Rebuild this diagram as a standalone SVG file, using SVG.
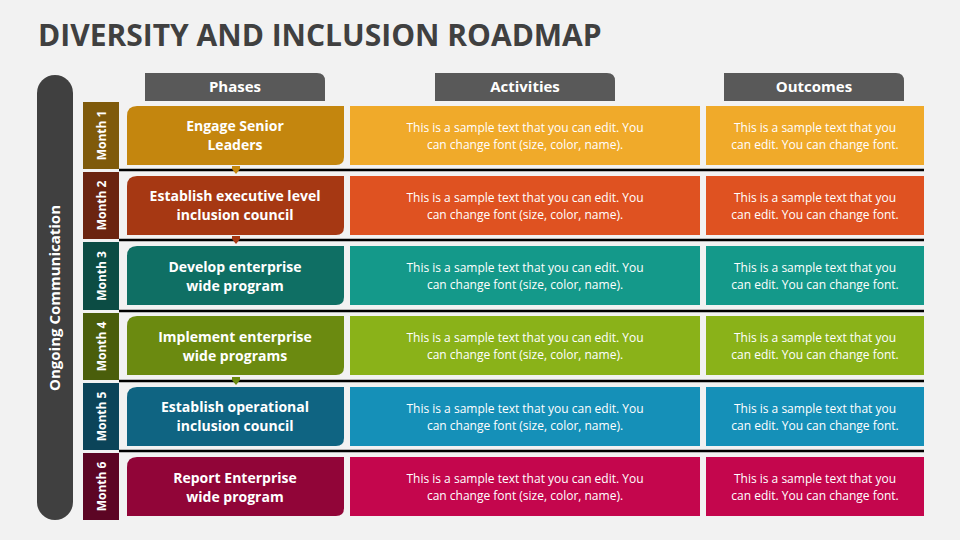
<svg xmlns="http://www.w3.org/2000/svg" width="960" height="540" viewBox="0 0 960 540">
<style>
text{font-family:"Open Sans","Liberation Sans",sans-serif;font-weight:bold;fill:#fff;text-anchor:middle}
.t{font-size:14px}
.s{font-size:12px;font-weight:normal}
.m{font-size:12px}
.h{font-size:15px}
.sep{stroke:#000;stroke-width:2.5}
</style>
<rect width="960" height="540" fill="#F2F2F2"/>
<text x="38" y="46" style="text-anchor:start;font-size:30px;fill:#404040">DIVERSITY AND INCLUSION ROADMAP</text>
<g id="headers">
<path d="M145 73H317Q325 73 325 81V101H145Z" fill="#595959"/><text class="h" x="235" y="92">Phases</text>
<path d="M435 73H607Q615 73 615 81V101H435Z" fill="#595959"/><text class="h" x="525" y="92">Activities</text>
<path d="M724 73H896Q904 73 904 81V101H724Z" fill="#595959"/><text class="h" x="814" y="92">Outcomes</text>
</g>
<g id="comm"><rect x="37" y="75" width="36" height="445" rx="18" fill="#404040"/>
<text class="h" transform="translate(60 298) rotate(-90)">Ongoing Communication</text></g>
<g id="connectors">
<line class="sep" x1="119" y1="170" x2="924" y2="170"/>
<line class="sep" x1="119" y1="240" x2="924" y2="240"/>
<line class="sep" x1="119" y1="311" x2="924" y2="311"/>
<line class="sep" x1="119" y1="381" x2="924" y2="381"/>
<line class="sep" x1="119" y1="451" x2="924" y2="451"/>
<path d="M232 166h8v3l-4 5l-4-5z" fill="#C4860E"/>
<path d="M232 236h8v3l-4 5l-4-5z" fill="#A63813"/>
<path d="M232 377h8v3l-4 5l-4-5z" fill="#6B8A10"/>
</g>
<g id="row1"><rect x="83" y="102" width="36" height="67" fill="#7F5A0B"/><text class="m" transform="translate(102 135.5) rotate(-90)" dy="4">Month 1</text>
<path d="M137 106H344V157Q344 165 336 165H127V116Q127 106 137 106Z" fill="#C4860E"/><text class="t" x="235" y="131">Engage Senior</text><text class="t" x="235" y="150">Leaders</text>
<rect x="350" y="106" width="350" height="59" fill="#F0AA2A"/><text class="s" x="525" y="132">This is a sample text that you can edit. You</text><text class="s" x="525" y="149">can change font (size, color, name).</text>
<rect x="706" y="106" width="218" height="59" fill="#F0AA2A"/><text class="s" x="815" y="132">This is a sample text that you</text><text class="s" x="815" y="149">can edit. You can change font.</text></g>
<g id="row2"><rect x="83" y="172" width="36" height="67" fill="#6B2410"/><text class="m" transform="translate(102 205.5) rotate(-90)" dy="4">Month 2</text>
<path d="M137 176H344V227Q344 235 336 235H127V186Q127 176 137 176Z" fill="#A63813"/><text class="t" x="235" y="201">Establish executive level</text><text class="t" x="235" y="220">inclusion council</text>
<rect x="350" y="176" width="350" height="59" fill="#DF5221"/><text class="s" x="525" y="202">This is a sample text that you can edit. You</text><text class="s" x="525" y="219">can change font (size, color, name).</text>
<rect x="706" y="176" width="218" height="59" fill="#DF5221"/><text class="s" x="815" y="202">This is a sample text that you</text><text class="s" x="815" y="219">can edit. You can change font.</text></g>
<g id="row3"><rect x="83" y="242" width="36" height="68" fill="#0C4C44"/><text class="m" transform="translate(102 276) rotate(-90)" dy="4">Month 3</text>
<path d="M137 246H344V297Q344 305 336 305H127V256Q127 246 137 246Z" fill="#0F6F64"/><text class="t" x="235" y="272">Develop enterprise</text><text class="t" x="235" y="291">wide program</text>
<rect x="350" y="246" width="350" height="59" fill="#14998A"/><text class="s" x="525" y="272">This is a sample text that you can edit. You</text><text class="s" x="525" y="289">can change font (size, color, name).</text>
<rect x="706" y="246" width="218" height="59" fill="#14998A"/><text class="s" x="815" y="272">This is a sample text that you</text><text class="s" x="815" y="289">can edit. You can change font.</text></g>
<g id="row4"><rect x="83" y="313" width="36" height="67" fill="#4A5E0B"/><text class="m" transform="translate(102 346.5) rotate(-90)" dy="4">Month 4</text>
<path d="M137 316H344V367Q344 375 336 375H127V326Q127 316 137 316Z" fill="#6B8A10"/><text class="t" x="235" y="342">Implement enterprise</text><text class="t" x="235" y="361">wide programs</text>
<rect x="350" y="316" width="350" height="59" fill="#8AB219"/><text class="s" x="525" y="342">This is a sample text that you can edit. You</text><text class="s" x="525" y="359">can change font (size, color, name).</text>
<rect x="706" y="316" width="218" height="59" fill="#8AB219"/><text class="s" x="815" y="342">This is a sample text that you</text><text class="s" x="815" y="359">can edit. You can change font.</text></g>
<g id="row5"><rect x="83" y="383" width="36" height="67" fill="#0B4459"/><text class="m" transform="translate(102 416.5) rotate(-90)" dy="4">Month 5</text>
<path d="M137 387H344V438Q344 446 336 446H127V397Q127 387 137 387Z" fill="#0F6482"/><text class="t" x="235" y="412">Establish operational</text><text class="t" x="235" y="431">inclusion council</text>
<rect x="350" y="387" width="350" height="59" fill="#1590B8"/><text class="s" x="525" y="413">This is a sample text that you can edit. You</text><text class="s" x="525" y="430">can change font (size, color, name).</text>
<rect x="706" y="387" width="218" height="59" fill="#1590B8"/><text class="s" x="815" y="413">This is a sample text that you</text><text class="s" x="815" y="430">can edit. You can change font.</text></g>
<g id="row6"><rect x="83" y="453" width="36" height="67" fill="#5C0524"/><text class="m" transform="translate(102 486.5) rotate(-90)" dy="4">Month 6</text>
<path d="M137 457H344V508Q344 516 336 516H127V467Q127 457 137 457Z" fill="#910538"/><text class="t" x="235" y="483">Report Enterprise</text><text class="t" x="235" y="502">wide program</text>
<rect x="350" y="457" width="350" height="59" fill="#C4064D"/><text class="s" x="525" y="483">This is a sample text that you can edit. You</text><text class="s" x="525" y="500">can change font (size, color, name).</text>
<rect x="706" y="457" width="218" height="59" fill="#C4064D"/><text class="s" x="815" y="483">This is a sample text that you</text><text class="s" x="815" y="500">can edit. You can change font.</text></g>
</svg>
